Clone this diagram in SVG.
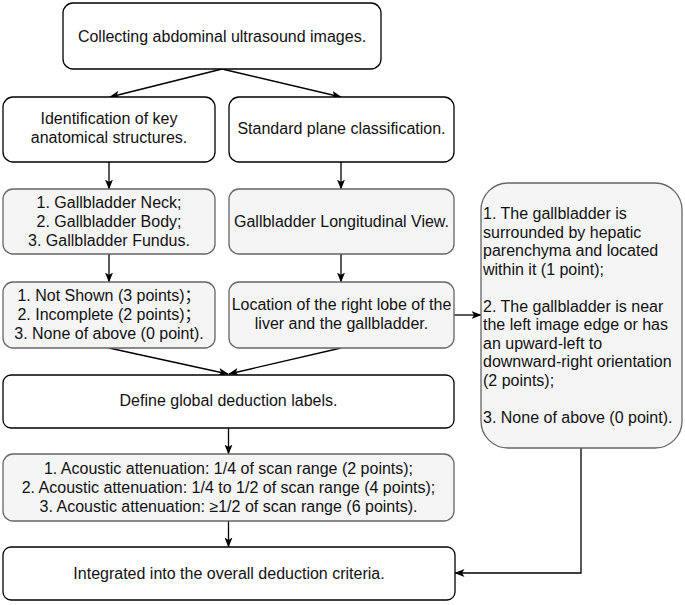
<svg xmlns="http://www.w3.org/2000/svg" width="685" height="605" viewBox="0 0 685 605">
<defs>
<style>
.w{fill:#ffffff;stroke:#000000;stroke-width:1.3}
.g{fill:#f5f5f5;stroke:#666666;stroke-width:1.3}
text{font-family:"Liberation Sans",Arial,"Noto Sans CJK SC",sans-serif;font-size:16px;fill:#111111}
.c{text-anchor:middle}
.l{text-anchor:start}
.e{fill:none;stroke:#000000;stroke-width:1.3}
</style>
<marker id="ah" markerWidth="10" markerHeight="8" refX="9.5" refY="4" orient="auto" markerUnits="userSpaceOnUse">
<path d="M0,0 L10,4 L0,8 L2.5,4 Z" fill="#000000"/>
</marker>
</defs>
<rect width="685" height="605" fill="#ffffff"/>
<g id="connectors">
<line class="e" x1="222" y1="69" x2="110" y2="97" marker-end="url(#ah)"/>
<line class="e" x1="222" y1="69" x2="341" y2="97" marker-end="url(#ah)"/>
<line class="e" x1="109" y1="162" x2="109" y2="189" marker-end="url(#ah)"/>
<line class="e" x1="341" y1="162" x2="341" y2="189" marker-end="url(#ah)"/>
<line class="e" x1="109" y1="254" x2="109" y2="282" marker-end="url(#ah)"/>
<line class="e" x1="341" y1="254" x2="341" y2="282" marker-end="url(#ah)"/>
<line class="e" x1="109" y1="348" x2="228" y2="374" marker-end="url(#ah)"/>
<line class="e" x1="341" y1="348" x2="229" y2="374" marker-end="url(#ah)"/>
<line class="e" x1="228.5" y1="428" x2="228.5" y2="454" marker-end="url(#ah)"/>
<line class="e" x1="228.5" y1="521" x2="228.5" y2="547" marker-end="url(#ah)"/>
<line class="e" x1="454" y1="315" x2="481" y2="315" marker-end="url(#ah)"/>
<polyline class="e" points="581,448 581,573 455,573" marker-end="url(#ah)"/>
</g>
<g id="n-collect">
<rect class="w" x="63" y="3" width="318" height="66" rx="10"/>
<text class="c" x="222" y="41.5">Collecting abdominal ultrasound images.</text>
</g>
<g id="n-ident">
<rect class="w" x="3" y="97" width="212" height="65" rx="10"/>
<text class="c" x="109" y="124">Identification of key</text>
<text class="c" x="109" y="143">anatomical structures.</text>
</g>
<g id="n-standard">
<rect class="w" x="229" y="97" width="225" height="65" rx="10"/>
<text class="c" x="341.5" y="134">Standard plane classification.</text>
</g>
<g id="n-parts">
<rect class="g" x="3" y="189" width="212" height="65" rx="10"/>
<text class="c" x="109" y="208">1. Gallbladder Neck;</text>
<text class="c" x="109" y="227">2. Gallbladder Body;</text>
<text class="c" x="109" y="246">3. Gallbladder Fundus.</text>
</g>
<g id="n-longview">
<rect class="g" x="229" y="189" width="225" height="65" rx="10"/>
<text class="c" x="341.5" y="227">Gallbladder Longitudinal View.</text>
</g>
<g id="n-shown">
<rect class="g" x="3" y="282" width="212" height="66" rx="10"/>
<text class="c" x="109" y="301">1. Not Shown (3 points)；</text>
<text class="c" x="109" y="320">2. Incomplete (2 points)；</text>
<text class="c" x="109" y="339">3. None of above (0 point).</text>
</g>
<g id="n-location">
<rect class="g" x="229" y="282" width="225" height="66" rx="10"/>
<text class="c" x="341.5" y="310">Location of the right lobe of the</text>
<text class="c" x="341.5" y="329">liver and the gallbladder.</text>
</g>
<g id="n-position">
<rect class="g" x="481" y="183" width="201" height="265" rx="27"/>
<text class="l" x="483" y="219">1. The gallbladder is</text>
<text class="l" x="483" y="237.5">surrounded by hepatic</text>
<text class="l" x="483" y="256">parenchyma and located</text>
<text class="l" x="483" y="274.5">within it (1 point);</text>
<text class="l" x="483" y="311.5">2. The gallbladder is near</text>
<text class="l" x="483" y="330">the left image edge or has</text>
<text class="l" x="483" y="348.5">an upward-left to</text>
<text class="l" x="483" y="367">downward-right orientation</text>
<text class="l" x="483" y="385.5">(2 points);</text>
<text class="l" x="483" y="422.5">3. None of above (0 point).</text>
</g>
<g id="n-define">
<rect class="w" x="3" y="375" width="451" height="53" rx="8"/>
<text class="c" x="228.5" y="406">Define global deduction labels.</text>
</g>
<g id="n-acoustic">
<rect class="g" x="3" y="454" width="451" height="67" rx="10"/>
<text class="c" x="228.5" y="474">1. Acoustic attenuation: 1/4 of scan range (2 points);</text>
<text class="c" x="228.5" y="493">2. Acoustic attenuation: 1/4 to 1/2 of scan range (4 points);</text>
<text class="c" x="228.5" y="512">3. Acoustic attenuation: ≥1/2 of scan range (6 points).</text>
</g>
<g id="n-integrated">
<rect class="w" x="3" y="547" width="452" height="53" rx="8"/>
<text class="c" x="229" y="579">Integrated into the overall deduction criteria.</text>
</g>
</svg>
